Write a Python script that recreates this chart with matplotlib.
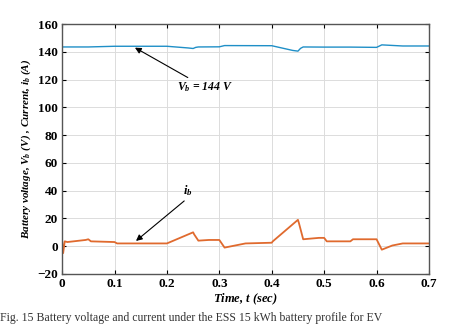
import matplotlib.pyplot as plt


# -----------------------------
# Data
# -----------------------------

OUTPUT_FILE = "out.png"

v_time = [0.0, 0.05, 0.1, 0.2, 0.24, 0.25, 0.255, 0.26, 0.3, 0.31, 0.4, 0.44, 0.45,
          0.455, 0.46, 0.5, 0.55, 0.6, 0.61, 0.65, 0.7]
v_batt = [143.5, 143.5, 144.0, 144.0, 142.8, 142.4, 143.2, 143.5, 143.6, 144.5, 144.4,
          141.0, 140.5, 142.5, 143.5, 143.4, 143.4, 143.2, 145.0, 144.2, 144.2]

i_time = [0.0, 0.002, 0.005, 0.01, 0.045, 0.05, 0.055, 0.1, 0.105, 0.2, 0.25, 0.252, 0.26,
          0.28, 0.3, 0.31, 0.35, 0.4, 0.402, 0.45, 0.452, 0.46, 0.49, 0.5, 0.505,
          0.55, 0.555, 0.6, 0.61, 0.63, 0.65, 0.7]
i_batt = [4.0, -5.0, 3.5, 3.0, 4.5, 5.0, 3.5, 3.0, 2.0, 2.0, 10.0, 8.5, 4.0,
          4.5, 4.5, -1.0, 2.0, 2.5, 3.5, 19.0, 16.5, 5.0, 6.0, 6.0, 3.5,
          3.5, 5.0, 5.0, -2.5, 0.5, 2.0, 2.0]

x_ticks = [0, 0.1, 0.2, 0.3, 0.4, 0.5, 0.6, 0.7]
x_tick_labels = ["0", "0.1", "0.2", "0.3", "0.4", "0.5", "0.6", "0.7"]
y_ticks = [-20, 0, 20, 40, 60, 80, 100, 120, 140, 160]


# -----------------------------
# Plot
# -----------------------------

plt.rcParams["font.family"] = ["Liberation Serif", "DejaVu Serif"]
plt.rcParams["mathtext.fontset"] = "custom"
plt.rcParams["mathtext.it"] = "Liberation Serif:italic:bold"
plt.rcParams["mathtext.rm"] = "Liberation Serif:bold"

fig = plt.figure(figsize=(4.74, 3.25), dpi=100)
ax = fig.add_axes([0.131, 0.157, 0.774, 0.769])

ax.plot(v_time, v_batt, color="#1f8fc7", linewidth=1.0)
ax.plot(i_time, i_batt, color="#e06a2e", linewidth=1.3)

ax.set_xlim(0, 0.7)
ax.set_ylim(-20, 160)
ax.set_xticks(x_ticks)
ax.set_xticklabels(x_tick_labels)
ax.set_yticks(y_ticks)

ax.grid(True, color="#dcdcdc", linewidth=0.7)
ax.tick_params(direction="in", length=3, labelsize=9.5, width=0.8, pad=3,
               top=True, right=True)
for lab in ax.get_xticklabels() + ax.get_yticklabels():
  lab.set_fontweight("bold")
for sp in ax.spines.values():
  sp.set_color("#555555")
  sp.set_linewidth(1.0)

ax.set_xlabel("Time, $t$ (sec)", fontsize=9, fontweight="bold", style="italic", labelpad=1)
ax.set_ylabel("Battery voltage, $V_b$ (V) , Current, $i_b$ (A)",
              fontsize=8, fontweight="bold", style="italic", labelpad=3)

ax.annotate("$V_b$ = 144 V", xy=(0.139, 143), xytext=(0.219, 114.5),
            fontsize=8.5, fontweight="bold", style="italic",
            arrowprops=dict(arrowstyle="-|>", color="black", lw=0.8,
                            shrinkA=0, shrinkB=0, mutation_scale=9),
            ha="left", va="center")
ax.annotate("", xy=(0.141, 3.8), xytext=(0.233, 32.6),
            arrowprops=dict(arrowstyle="-|>", color="black", lw=0.8,
                            shrinkA=0, shrinkB=0, mutation_scale=9))
ax.text(0.24, 40, "$i_b$", fontsize=9, ha="center", va="center")

fig.text(0.0, 0.002, "Fig. 15 Battery voltage and current under the ESS 15 kWh battery profile for EV",
         fontsize=8.5, ha="left", va="bottom", color="#333333")


# -----------------------------
# Save
# -----------------------------

fig.savefig(OUTPUT_FILE, dpi=100)
plt.close(fig)

print(f"Saved: {OUTPUT_FILE}")
